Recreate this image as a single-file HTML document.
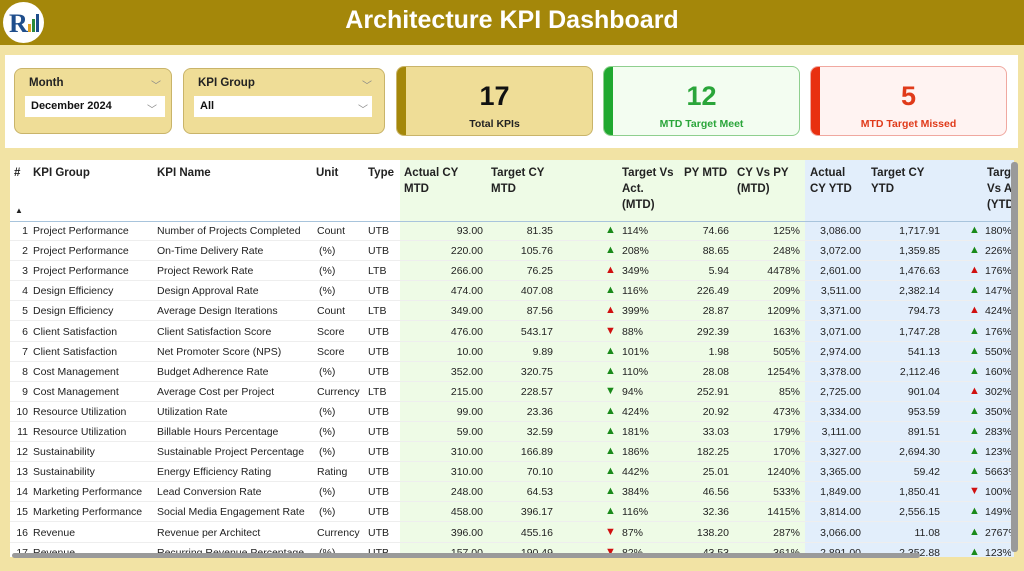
<!DOCTYPE html>
<html><head><meta charset="utf-8">
<style>
*{box-sizing:border-box;margin:0;padding:0}
body{width:1024px;height:571px;overflow:hidden;background:#f2e3a4;font-family:"Liberation Sans",sans-serif;position:relative}
.hdr{position:absolute;left:0;top:0;width:1024px;height:45px;background:#a4870a}
.hdr h1{position:absolute;left:0;width:1024px;top:6px;text-align:center;color:#fff;font-size:25px;font-weight:bold}
.logo{position:absolute;left:3px;top:2px;width:41px;height:41px;border-radius:50%;background:#fff}
.panel{position:absolute;left:5px;top:55px;width:1013px;height:93px;background:#fff}
.slicer{position:absolute;top:68px;height:66px;background:#efdd97;border:1px solid #c9b46a;border-radius:8px}
.slicer .t{position:absolute;left:14px;top:8px;font-size:11.5px;font-weight:bold;color:#222}
.slicer .v{position:absolute;left:10px;top:27px;height:21px;background:#fff;font-size:11px;font-weight:bold;padding:4px 6px;color:#111}
.chev{position:absolute;font-size:10px;color:#888}
.card{position:absolute;top:66px;height:70px;border-radius:8px;text-align:center;overflow:hidden}
.card .n{position:absolute;left:0;right:0;top:14px;font-size:27px;font-weight:bold}
.card .l{position:absolute;left:0;right:0;top:51px;font-size:10.5px;font-weight:bold}
.card .bar{position:absolute;left:0;top:0;bottom:0;width:9px}
.tbl{position:absolute;left:10px;top:160px;width:1004px;height:397px;background:#fff;overflow:hidden}
.g{position:absolute;top:0;height:397px;background:#eefbe6}
.b{position:absolute;top:0;height:397px;background:#e2eefb}
.h{position:absolute;font-size:11.5px;font-weight:bold;color:#222;line-height:16px;white-space:nowrap}
.row{position:absolute;left:0;width:1004px;height:20px;font-size:10.5px;color:#222;border-bottom:1px solid #eee}
.row span{position:absolute;top:4px;white-space:nowrap}
.r{text-align:right}
.up{color:#1a8a1a;font-size:11px;top:3px!important}
.dn{color:#d01010;font-size:11px;top:3px!important}
.uR{color:#d01010;font-size:11px;top:3px!important}
</style></head><body>
<div class="hdr"><div class="logo"><svg width="41" height="41"><text x="6" y="30" font-size="26" font-weight="bold" fill="#1f4e8c" font-family="Liberation Serif">R</text><rect x="25" y="22" width="3" height="8" fill="#e0a020"/><rect x="29" y="17" width="3" height="13" fill="#2a8a3a"/><rect x="33" y="12" width="3" height="18" fill="#1f4e8c"/></svg></div><h1>Architecture KPI Dashboard</h1></div>
<div class="panel"></div>
<div class="slicer" style="left:14px;width:158px"><div class="t">Month</div><div class="chev" style="left:136px;top:8px">﹀</div><div class="v" style="width:140px">December 2024</div><div class="chev" style="left:132px;top:32px">﹀</div></div>
<div class="slicer" style="left:183px;width:202px"><div class="t">KPI Group</div><div class="chev" style="left:178px;top:8px">﹀</div><div class="v" style="width:178px">All</div><div class="chev" style="left:174px;top:32px">﹀</div></div>
<div class="card" style="left:396px;width:197px;background:#efdd97;border:1px solid #c9b46a"><div class="bar" style="background:#a4870a"></div><div class="n" style="color:#111">17</div><div class="l" style="color:#222">Total KPIs</div></div>
<div class="card" style="left:603px;width:197px;background:#f3fdf1;border:1px solid #8fcf8f"><div class="bar" style="background:#20a830"></div><div class="n" style="color:#2aa53a">12</div><div class="l" style="color:#2aa53a">MTD Target Meet</div></div>
<div class="card" style="left:810px;width:197px;background:#fff3f2;border:1px solid #f0a8a0"><div class="bar" style="background:#e83010"></div><div class="n" style="color:#e03a1a">5</div><div class="l" style="color:#e03a1a">MTD Target Missed</div></div>

<div class="tbl">
<div class="g" style="left:390px;width:405px"></div>
<div class="b" style="left:795px;width:209px"></div>
<div style="position:absolute;left:0;top:61px;width:1004px;height:1px;background:#a8c4dc"></div>
<div class="h" style="left:4px;top:5px">#</div>
<div style="position:absolute;left:5px;top:46px;font-size:8px;color:#222">▲</div>
<div class="h" style="left:23px;top:5px">KPI Group</div>
<div class="h" style="left:147px;top:5px">KPI Name</div>
<div class="h" style="left:306px;top:5px">Unit</div>
<div class="h" style="left:358px;top:5px">Type</div>
<div class="h" style="left:394px;top:5px">Actual CY<br>MTD</div>
<div class="h" style="left:481px;top:5px">Target CY<br>MTD</div>
<div class="h" style="left:612px;top:5px">Target Vs<br>Act.<br>(MTD)</div>
<div class="h" style="left:674px;top:5px">PY MTD</div>
<div class="h" style="left:727px;top:5px">CY Vs PY<br>(MTD)</div>
<div class="h" style="left:800px;top:5px">Actual<br>CY YTD</div>
<div class="h" style="left:861px;top:5px">Target CY<br>YTD</div>
<div class="h" style="left:977px;top:5px">Target<br>Vs Act.<br>(YTD)</div>
</div>
<div style="position:absolute;left:1011px;top:162px;width:7px;height:390px;background:#9a9a9a;border-radius:3px"></div>

<div style="position:absolute;left:10px;top:221px;width:1001px;height:336px;overflow:hidden">
<div class="row" style="top:0px"><span class="r" style="left:0;width:18px">1</span><span style="left:23px">Project Performance</span><span style="left:147px">Number of Projects Completed</span><span style="left:307px">Count</span><span style="left:358px">UTB</span><span class="r" style="left:390px;width:83px">93.00</span><span class="r" style="left:477px;width:66px">81.35</span><span class="up" style="left:595px">▲</span><span style="left:612px">114%</span><span class="r" style="left:670px;width:49px">74.66</span><span class="r" style="left:723px;width:67px">125%</span><span class="r" style="left:795px;width:56px">3,086.00</span><span class="r" style="left:856px;width:74px">1,717.91</span><span class="up" style="left:959px">▲</span><span style="left:975px">180%</span></div>
<div class="row" style="top:20.1px"><span class="r" style="left:0;width:18px">2</span><span style="left:23px">Project Performance</span><span style="left:147px">On-Time Delivery Rate</span><span style="left:309px">(%)</span><span style="left:358px">UTB</span><span class="r" style="left:390px;width:83px">220.00</span><span class="r" style="left:477px;width:66px">105.76</span><span class="up" style="left:595px">▲</span><span style="left:612px">208%</span><span class="r" style="left:670px;width:49px">88.65</span><span class="r" style="left:723px;width:67px">248%</span><span class="r" style="left:795px;width:56px">3,072.00</span><span class="r" style="left:856px;width:74px">1,359.85</span><span class="up" style="left:959px">▲</span><span style="left:975px">226%</span></div>
<div class="row" style="top:40.2px"><span class="r" style="left:0;width:18px">3</span><span style="left:23px">Project Performance</span><span style="left:147px">Project Rework Rate</span><span style="left:309px">(%)</span><span style="left:358px">LTB</span><span class="r" style="left:390px;width:83px">266.00</span><span class="r" style="left:477px;width:66px">76.25</span><span class="uR" style="left:595px">▲</span><span style="left:612px">349%</span><span class="r" style="left:670px;width:49px">5.94</span><span class="r" style="left:723px;width:67px">4478%</span><span class="r" style="left:795px;width:56px">2,601.00</span><span class="r" style="left:856px;width:74px">1,476.63</span><span class="uR" style="left:959px">▲</span><span style="left:975px">176%</span></div>
<div class="row" style="top:60.3px"><span class="r" style="left:0;width:18px">4</span><span style="left:23px">Design Efficiency</span><span style="left:147px">Design Approval Rate</span><span style="left:309px">(%)</span><span style="left:358px">UTB</span><span class="r" style="left:390px;width:83px">474.00</span><span class="r" style="left:477px;width:66px">407.08</span><span class="up" style="left:595px">▲</span><span style="left:612px">116%</span><span class="r" style="left:670px;width:49px">226.49</span><span class="r" style="left:723px;width:67px">209%</span><span class="r" style="left:795px;width:56px">3,511.00</span><span class="r" style="left:856px;width:74px">2,382.14</span><span class="up" style="left:959px">▲</span><span style="left:975px">147%</span></div>
<div class="row" style="top:80.4px"><span class="r" style="left:0;width:18px">5</span><span style="left:23px">Design Efficiency</span><span style="left:147px">Average Design Iterations</span><span style="left:307px">Count</span><span style="left:358px">LTB</span><span class="r" style="left:390px;width:83px">349.00</span><span class="r" style="left:477px;width:66px">87.56</span><span class="uR" style="left:595px">▲</span><span style="left:612px">399%</span><span class="r" style="left:670px;width:49px">28.87</span><span class="r" style="left:723px;width:67px">1209%</span><span class="r" style="left:795px;width:56px">3,371.00</span><span class="r" style="left:856px;width:74px">794.73</span><span class="uR" style="left:959px">▲</span><span style="left:975px">424%</span></div>
<div class="row" style="top:100.5px"><span class="r" style="left:0;width:18px">6</span><span style="left:23px">Client Satisfaction</span><span style="left:147px">Client Satisfaction Score</span><span style="left:307px">Score</span><span style="left:358px">UTB</span><span class="r" style="left:390px;width:83px">476.00</span><span class="r" style="left:477px;width:66px">543.17</span><span class="dn" style="left:595px">▼</span><span style="left:612px">88%</span><span class="r" style="left:670px;width:49px">292.39</span><span class="r" style="left:723px;width:67px">163%</span><span class="r" style="left:795px;width:56px">3,071.00</span><span class="r" style="left:856px;width:74px">1,747.28</span><span class="up" style="left:959px">▲</span><span style="left:975px">176%</span></div>
<div class="row" style="top:120.6px"><span class="r" style="left:0;width:18px">7</span><span style="left:23px">Client Satisfaction</span><span style="left:147px">Net Promoter Score (NPS)</span><span style="left:307px">Score</span><span style="left:358px">UTB</span><span class="r" style="left:390px;width:83px">10.00</span><span class="r" style="left:477px;width:66px">9.89</span><span class="up" style="left:595px">▲</span><span style="left:612px">101%</span><span class="r" style="left:670px;width:49px">1.98</span><span class="r" style="left:723px;width:67px">505%</span><span class="r" style="left:795px;width:56px">2,974.00</span><span class="r" style="left:856px;width:74px">541.13</span><span class="up" style="left:959px">▲</span><span style="left:975px">550%</span></div>
<div class="row" style="top:140.7px"><span class="r" style="left:0;width:18px">8</span><span style="left:23px">Cost Management</span><span style="left:147px">Budget Adherence Rate</span><span style="left:309px">(%)</span><span style="left:358px">UTB</span><span class="r" style="left:390px;width:83px">352.00</span><span class="r" style="left:477px;width:66px">320.75</span><span class="up" style="left:595px">▲</span><span style="left:612px">110%</span><span class="r" style="left:670px;width:49px">28.08</span><span class="r" style="left:723px;width:67px">1254%</span><span class="r" style="left:795px;width:56px">3,378.00</span><span class="r" style="left:856px;width:74px">2,112.46</span><span class="up" style="left:959px">▲</span><span style="left:975px">160%</span></div>
<div class="row" style="top:160.8px"><span class="r" style="left:0;width:18px">9</span><span style="left:23px">Cost Management</span><span style="left:147px">Average Cost per Project</span><span style="left:307px">Currency</span><span style="left:358px">LTB</span><span class="r" style="left:390px;width:83px">215.00</span><span class="r" style="left:477px;width:66px">228.57</span><span class="up" style="left:595px">▼</span><span style="left:612px">94%</span><span class="r" style="left:670px;width:49px">252.91</span><span class="r" style="left:723px;width:67px">85%</span><span class="r" style="left:795px;width:56px">2,725.00</span><span class="r" style="left:856px;width:74px">901.04</span><span class="uR" style="left:959px">▲</span><span style="left:975px">302%</span></div>
<div class="row" style="top:180.9px"><span class="r" style="left:0;width:18px">10</span><span style="left:23px">Resource Utilization</span><span style="left:147px">Utilization Rate</span><span style="left:309px">(%)</span><span style="left:358px">UTB</span><span class="r" style="left:390px;width:83px">99.00</span><span class="r" style="left:477px;width:66px">23.36</span><span class="up" style="left:595px">▲</span><span style="left:612px">424%</span><span class="r" style="left:670px;width:49px">20.92</span><span class="r" style="left:723px;width:67px">473%</span><span class="r" style="left:795px;width:56px">3,334.00</span><span class="r" style="left:856px;width:74px">953.59</span><span class="up" style="left:959px">▲</span><span style="left:975px">350%</span></div>
<div class="row" style="top:201px"><span class="r" style="left:0;width:18px">11</span><span style="left:23px">Resource Utilization</span><span style="left:147px">Billable Hours Percentage</span><span style="left:309px">(%)</span><span style="left:358px">UTB</span><span class="r" style="left:390px;width:83px">59.00</span><span class="r" style="left:477px;width:66px">32.59</span><span class="up" style="left:595px">▲</span><span style="left:612px">181%</span><span class="r" style="left:670px;width:49px">33.03</span><span class="r" style="left:723px;width:67px">179%</span><span class="r" style="left:795px;width:56px">3,111.00</span><span class="r" style="left:856px;width:74px">891.51</span><span class="up" style="left:959px">▲</span><span style="left:975px">283%</span></div>
<div class="row" style="top:221.1px"><span class="r" style="left:0;width:18px">12</span><span style="left:23px">Sustainability</span><span style="left:147px">Sustainable Project Percentage</span><span style="left:309px">(%)</span><span style="left:358px">UTB</span><span class="r" style="left:390px;width:83px">310.00</span><span class="r" style="left:477px;width:66px">166.89</span><span class="up" style="left:595px">▲</span><span style="left:612px">186%</span><span class="r" style="left:670px;width:49px">182.25</span><span class="r" style="left:723px;width:67px">170%</span><span class="r" style="left:795px;width:56px">3,327.00</span><span class="r" style="left:856px;width:74px">2,694.30</span><span class="up" style="left:959px">▲</span><span style="left:975px">123%</span></div>
<div class="row" style="top:241.2px"><span class="r" style="left:0;width:18px">13</span><span style="left:23px">Sustainability</span><span style="left:147px">Energy Efficiency Rating</span><span style="left:307px">Rating</span><span style="left:358px">UTB</span><span class="r" style="left:390px;width:83px">310.00</span><span class="r" style="left:477px;width:66px">70.10</span><span class="up" style="left:595px">▲</span><span style="left:612px">442%</span><span class="r" style="left:670px;width:49px">25.01</span><span class="r" style="left:723px;width:67px">1240%</span><span class="r" style="left:795px;width:56px">3,365.00</span><span class="r" style="left:856px;width:74px">59.42</span><span class="up" style="left:959px">▲</span><span style="left:975px">5663%</span></div>
<div class="row" style="top:261.3px"><span class="r" style="left:0;width:18px">14</span><span style="left:23px">Marketing Performance</span><span style="left:147px">Lead Conversion Rate</span><span style="left:309px">(%)</span><span style="left:358px">UTB</span><span class="r" style="left:390px;width:83px">248.00</span><span class="r" style="left:477px;width:66px">64.53</span><span class="up" style="left:595px">▲</span><span style="left:612px">384%</span><span class="r" style="left:670px;width:49px">46.56</span><span class="r" style="left:723px;width:67px">533%</span><span class="r" style="left:795px;width:56px">1,849.00</span><span class="r" style="left:856px;width:74px">1,850.41</span><span class="dn" style="left:959px">▼</span><span style="left:975px">100%</span></div>
<div class="row" style="top:281.4px"><span class="r" style="left:0;width:18px">15</span><span style="left:23px">Marketing Performance</span><span style="left:147px">Social Media Engagement Rate</span><span style="left:309px">(%)</span><span style="left:358px">UTB</span><span class="r" style="left:390px;width:83px">458.00</span><span class="r" style="left:477px;width:66px">396.17</span><span class="up" style="left:595px">▲</span><span style="left:612px">116%</span><span class="r" style="left:670px;width:49px">32.36</span><span class="r" style="left:723px;width:67px">1415%</span><span class="r" style="left:795px;width:56px">3,814.00</span><span class="r" style="left:856px;width:74px">2,556.15</span><span class="up" style="left:959px">▲</span><span style="left:975px">149%</span></div>
<div class="row" style="top:301.5px"><span class="r" style="left:0;width:18px">16</span><span style="left:23px">Revenue</span><span style="left:147px">Revenue per Architect</span><span style="left:307px">Currency</span><span style="left:358px">UTB</span><span class="r" style="left:390px;width:83px">396.00</span><span class="r" style="left:477px;width:66px">455.16</span><span class="dn" style="left:595px">▼</span><span style="left:612px">87%</span><span class="r" style="left:670px;width:49px">138.20</span><span class="r" style="left:723px;width:67px">287%</span><span class="r" style="left:795px;width:56px">3,066.00</span><span class="r" style="left:856px;width:74px">11.08</span><span class="up" style="left:959px">▲</span><span style="left:975px">2767%</span></div>
<div class="row" style="top:321.6px"><span class="r" style="left:0;width:18px">17</span><span style="left:23px">Revenue</span><span style="left:147px">Recurring Revenue Percentage</span><span style="left:309px">(%)</span><span style="left:358px">UTB</span><span class="r" style="left:390px;width:83px">157.00</span><span class="r" style="left:477px;width:66px">190.49</span><span class="dn" style="left:595px">▼</span><span style="left:612px">82%</span><span class="r" style="left:670px;width:49px">43.53</span><span class="r" style="left:723px;width:67px">361%</span><span class="r" style="left:795px;width:56px">2,891.00</span><span class="r" style="left:856px;width:74px">2,352.88</span><span class="up" style="left:959px">▲</span><span style="left:975px">123%</span></div>
</div>
<div style="position:absolute;left:12px;top:553px;width:908px;height:5px;background:#9a9a9a;border-radius:3px"></div>
</body></html>
